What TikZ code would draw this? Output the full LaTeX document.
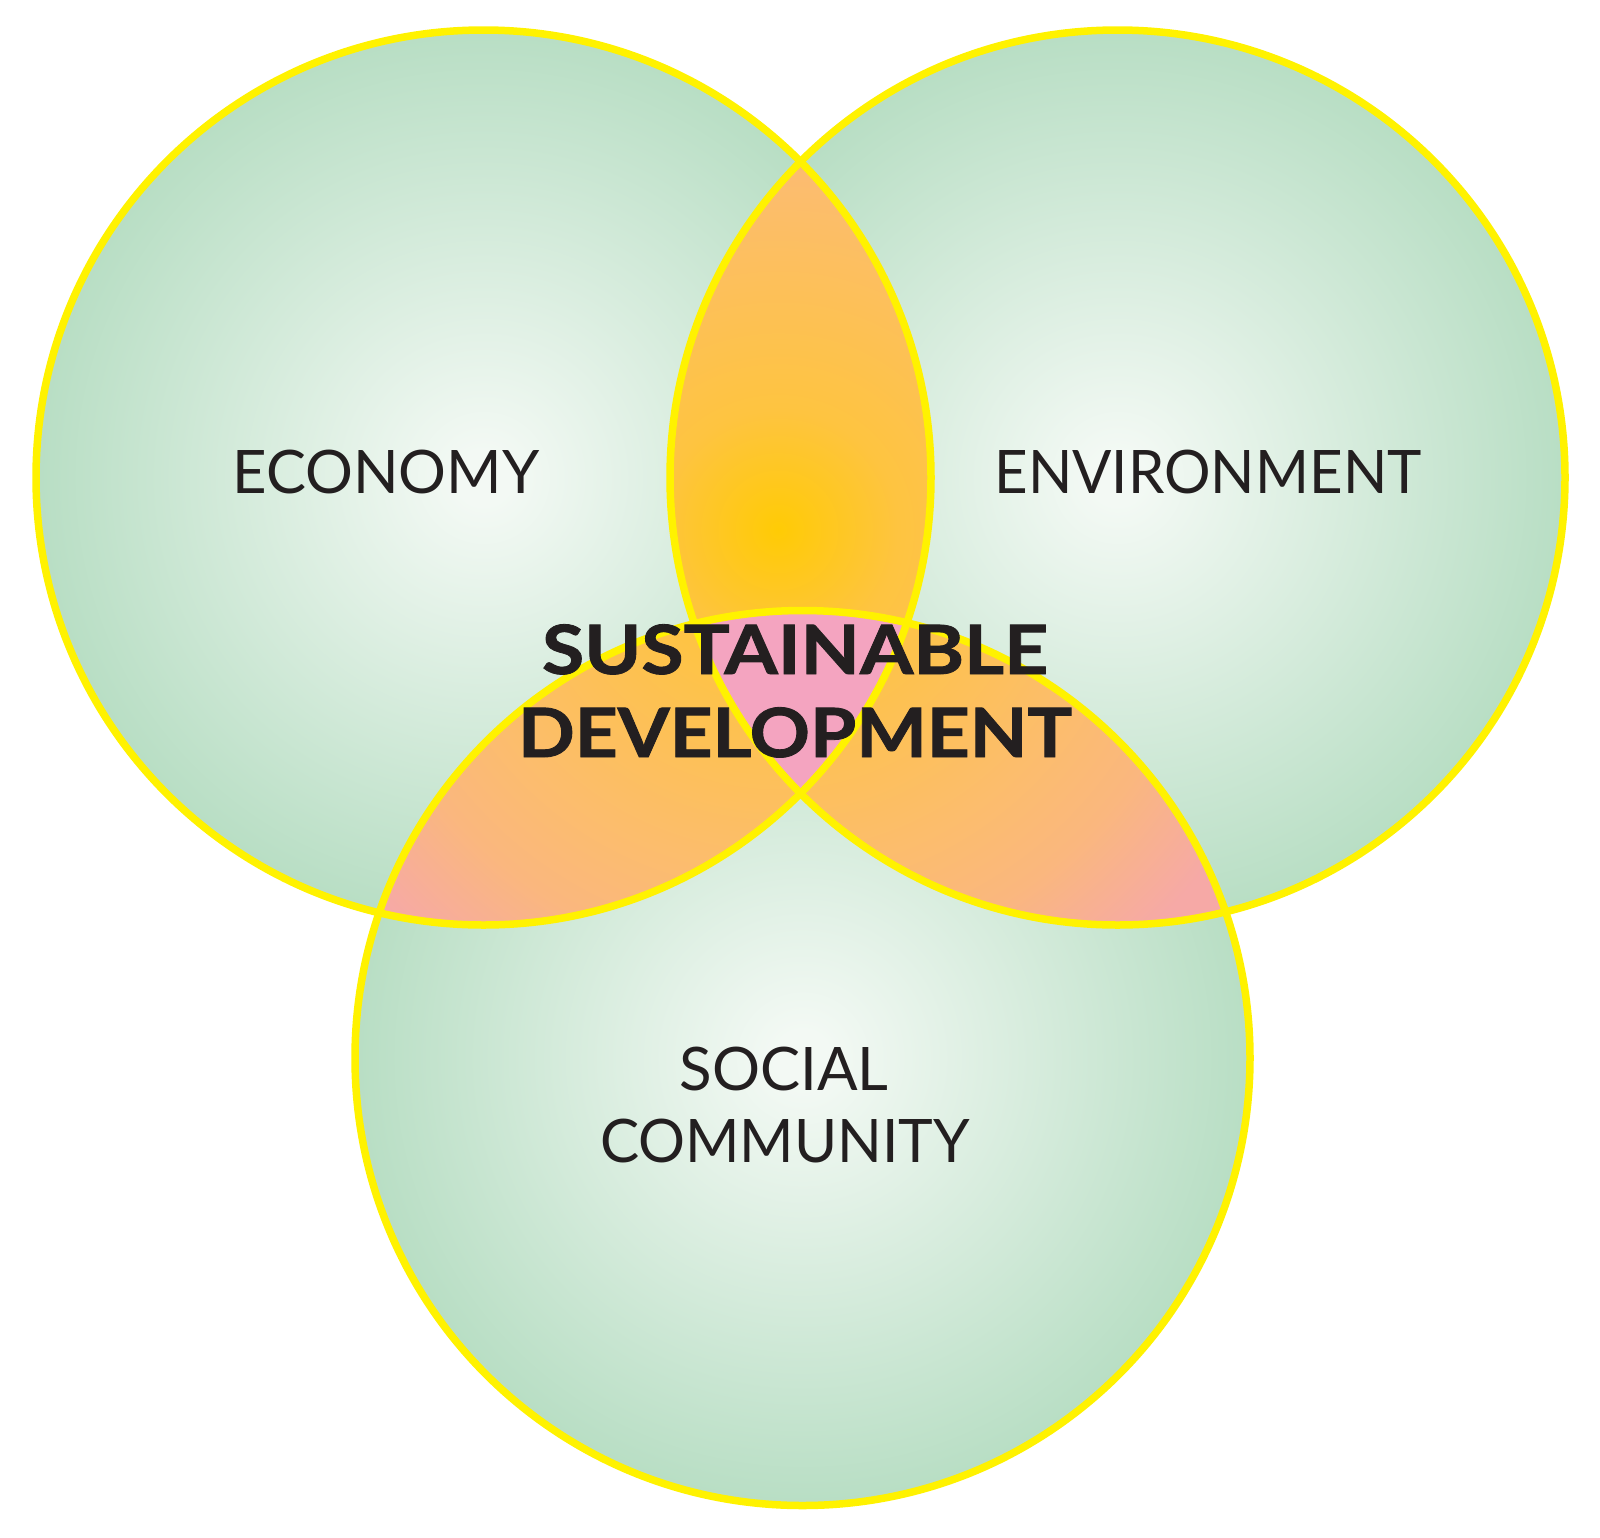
\documentclass[tikz,border=0pt]{standalone}
\usepackage{fontspec}
\setmainfont{Lato}[BoldFeatures={FakeBold=1.2}]
\usepackage{graphicx}
\definecolor{gc}{HTML}{F3F9F4}
\definecolor{ge}{HTML}{B8DEC4}
\definecolor{ystroke}{HTML}{FFF200}
\definecolor{lc}{HTML}{FFCB05}
\definecolor{lm}{HTML}{FEC440}
\definecolor{lo}{HTML}{FCBD6C}
\definecolor{lq}{HTML}{FAB77E}
\definecolor{lp}{HTML}{F6A9A6}
\definecolor{tri}{HTML}{F4A4C0}
\definecolor{ink}{HTML}{231F20}
\pgfdeclareradialshading{greenball}{\pgfpoint{0bp}{0bp}}{color(0bp)=(gc); color(1.5bp)=(gc); color(25bp)=(ge); color(50bp)=(ge)}
\pgfdeclareradialshading{lensball}{\pgfpoint{0bp}{0bp}}{color(0bp)=(lc); color(5bp)=(lm); color(14bp)=(lo); color(18bp)=(lq); color(22.7bp)=(lp); color(50bp)=(lp)}
\newsavebox\fitbox
\newcommand\fitw[2]{\sbox\fitbox{#2}\dimen0=\wd\fitbox\pgfmathsetmacro\fitr{#1/\the\dimen0}\scalebox{\fitr}[1]{\usebox\fitbox}}
\tikzset{
  ring/.style={draw=ystroke, line width=7.5pt},
  lbl/.style={anchor=base, inner sep=0pt, text=ink, font=\fontsize{60}{72}\selectfont},
  blbl/.style={anchor=base, inner sep=0pt, text=ink, font=\fontsize{68}{80}\selectfont\bfseries}
}
\begin{document}
\begin{tikzpicture}[x=1pt,y=-1pt]
\useasboundingbox (0,0) rectangle (1600,1537);
\coordinate (L) at (483.5,477.5);
\coordinate (R) at (1117.5,477.5);
\coordinate (B) at (802.5,1058);
\coordinate (K) at (778,530);
\def\rr{447.5}
% green circles
\shade[shading=greenball] (L) circle[radius=\rr];
\shade[shading=greenball] (R) circle[radius=\rr];
\shade[shading=greenball] (B) circle[radius=\rr];
% pairwise lenses
\begin{scope}
\clip (L) circle[radius=\rr];
\clip (R) circle[radius=\rr];
\shade[shading=lensball] (K) circle[radius=600];
\end{scope}
\begin{scope}
\clip (L) circle[radius=\rr];
\clip (B) circle[radius=\rr];
\shade[shading=lensball] (K) circle[radius=600];
\end{scope}
\begin{scope}
\clip (R) circle[radius=\rr];
\clip (B) circle[radius=\rr];
\shade[shading=lensball] (K) circle[radius=600];
\end{scope}
% triple region
\begin{scope}
\clip (L) circle[radius=\rr];
\clip (R) circle[radius=\rr];
\fill[tri] (B) circle[radius=\rr];
\end{scope}
% rings
\path[ring] (L) circle[radius=\rr];
\path[ring] (R) circle[radius=\rr];
\path[ring] (B) circle[radius=\rr];
% labels
\node[lbl] (econ) at (386,493) {\fitw{307}{ECONOMY}};
\node[lbl] (env) at (1208,493) {\fitw{427}{ENVIRONMENT}};
\node[lbl] (soc) at (784,1090) {\fitw{209}{SOCIAL}};
\node[lbl] (comm) at (785,1162) {\fitw{370}{COMMUNITY}};
\node[blbl] (sus) at (795,674) {\fitw{506}{SUSTAINABLE}};
\node[blbl] (dev) at (795,757) {\fitw{554}{DEVELOPMENT}};
\end{tikzpicture}
\end{document}
